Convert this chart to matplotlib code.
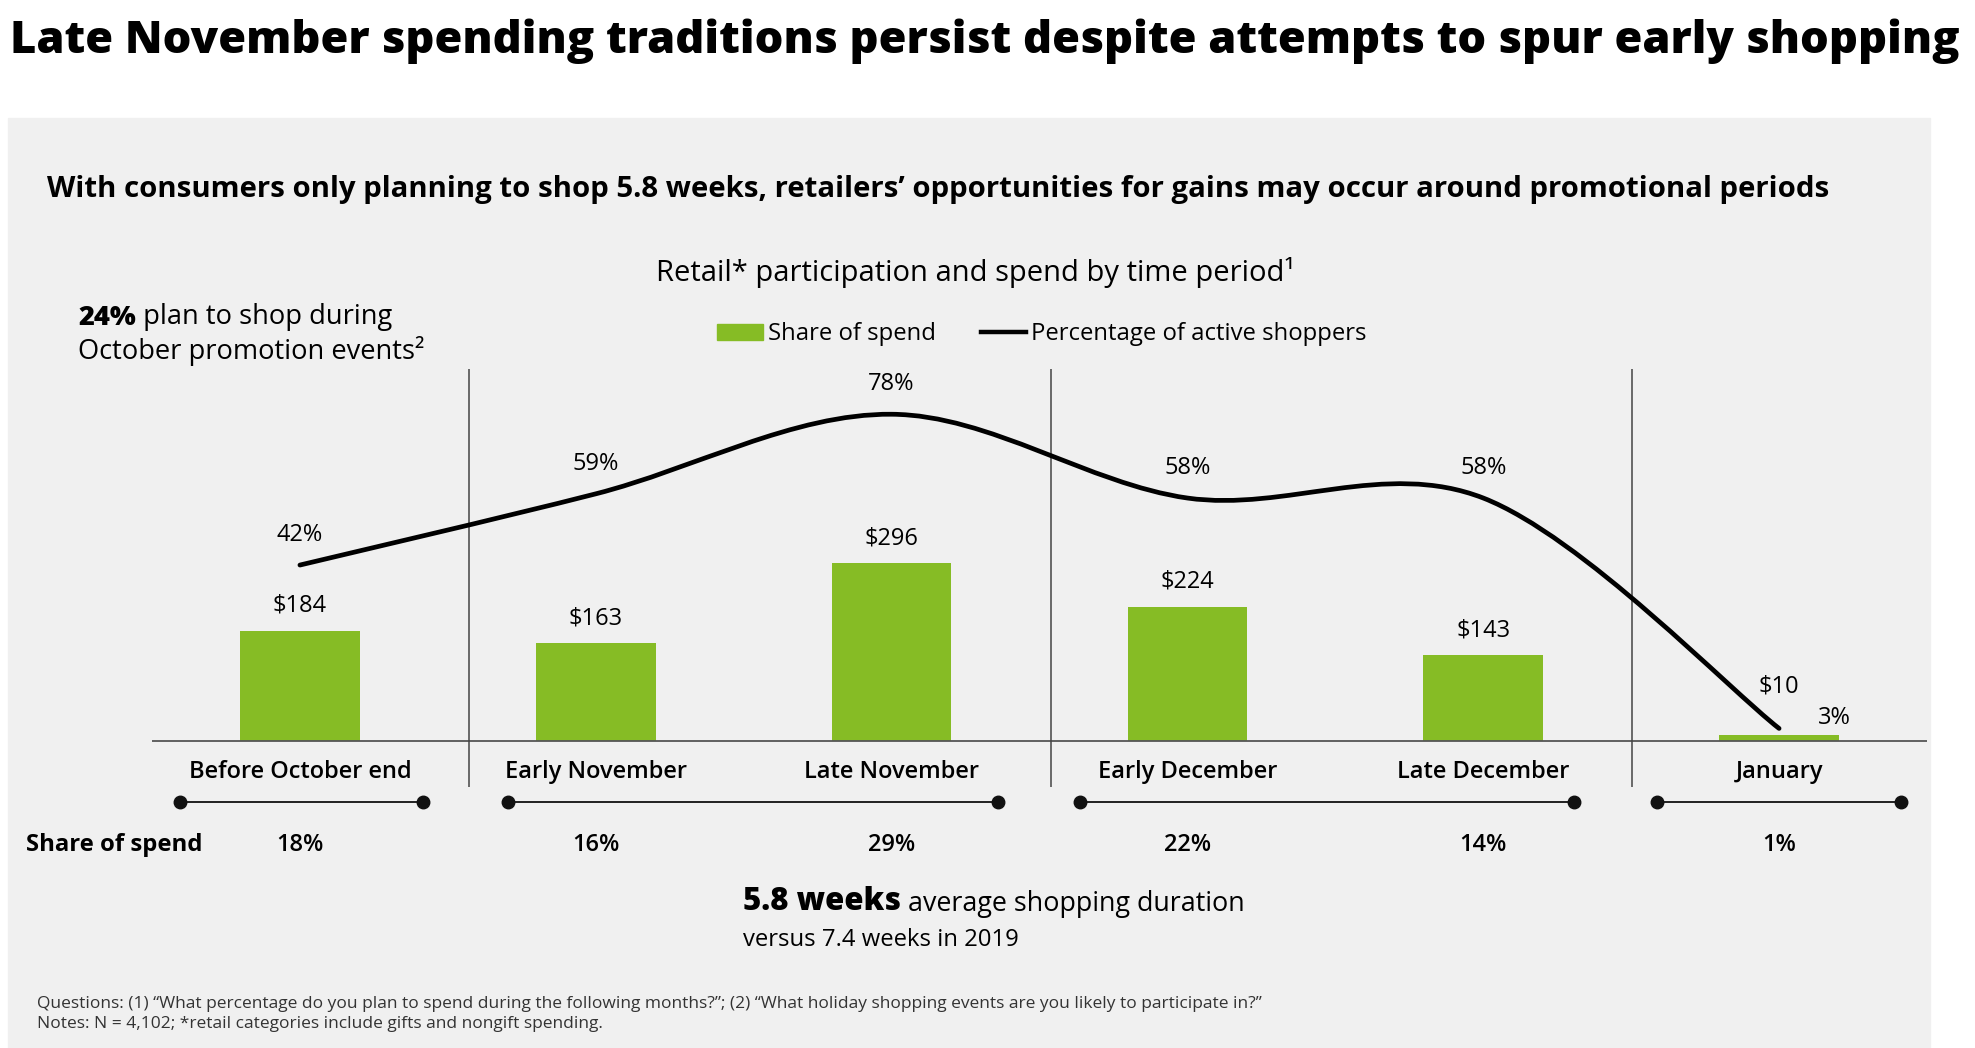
import matplotlib
matplotlib.use("Agg")
import matplotlib.pyplot as plt
from matplotlib.patches import Rectangle, Patch, PathPatch
from matplotlib.lines import Line2D
from matplotlib.path import Path

plt.rcParams['font.family'] = ['Open Sans', 'DejaVu Sans']

# data
periods = ["Before October end", "Early November", "Late November",
           "Early December", "Late December", "January"]
spend_dollars = [184, 163, 296, 224, 143, 10]
share_of_spend = [18, 16, 29, 22, 14, 1]
active_shoppers = [42, 59, 78, 58, 58, 3]

# timeline segments under the category labels (start, end) in category units
timeline = [(-0.405, 0.417), (0.703, 2.359), (2.636, 4.306), (4.587, 5.413)]
separators = [0.571, 2.538, 4.502]

GREEN = "#86bc25"
PANEL = "#f0f0f0"
W, H = 1975, 1048


def fx(x):
    return x / W


def fy(y):
    return 1 - y / H


def smooth_path(xs, ys):
    # Catmull-Rom style bezier through the points (like a smoothed Excel line)
    pts = list(zip(xs, ys))
    n = len(pts)
    verts = [pts[0]]
    codes = [Path.MOVETO]
    for i in range(n - 1):
        p0 = pts[max(i - 1, 0)]
        p1 = pts[i]
        p2 = pts[i + 1]
        p3 = pts[min(i + 2, n - 1)]
        c1 = (p1[0] + (p2[0] - p0[0]) / 6, p1[1] + (p2[1] - p0[1]) / 6)
        c2 = (p2[0] - (p3[0] - p1[0]) / 6, p2[1] - (p3[1] - p1[1]) / 6)
        verts += [c1, c2, p2]
        codes += [Path.CURVE4] * 3
    return Path(verts, codes)


fig = plt.figure(figsize=(W / 100, H / 100), dpi=100)
fig.patch.set_facecolor("white")
fig.patches.append(Rectangle((fx(8), 0), fx(1922), 930 / H, transform=fig.transFigure,
                             color=PANEL, zorder=-5))

# titles
fig.text(fx(10), fy(53), "Late November spending traditions persist despite attempts to spur early shopping",
         fontsize=32.6, weight=800, va="baseline")
fig.text(fx(47), fy(197), "With consumers only planning to shop 5.8 weeks, retailers\u2019 opportunities "
         "for gains may occur around promotional periods",
         fontsize=21.2, weight="bold", va="baseline")
fig.text(fx(975), fy(273), "Retail* participation and spend by time period\u00b9",
         fontsize=21, ha="center", va="center")

# axes: bars in dollars, line in percent, sharing the same baseline
ax = fig.add_axes([fx(152), fy(787), fx(1775), 418 / H])
ax2 = ax.twinx()
for a in (ax, ax2):
    a.set_xlim(-0.5, 5.5)
    a.axis("off")
    a.patch.set_visible(False)
ax.set_ylim(-76.7, 620)
ax2.set_ylim(-10.98, 88.8)

x = list(range(len(periods)))
ax.bar(x, spend_dollars, width=0.405, color=GREEN, zorder=2)
for i, v in enumerate(spend_dollars):
    dy = 35 if i == len(spend_dollars) - 1 else 18
    ax.annotate(f"${v}", (i, v), xytext=(0, dy), textcoords="offset points",
                ha="center", va="center", fontsize=17)

ax2.add_patch(PathPatch(smooth_path(x, active_shoppers), fill=False, lw=3.4,
                        edgecolor="black", capstyle="round", zorder=3))
for i, v in enumerate(active_shoppers):
    off = (39.6, 7.5) if i == len(active_shoppers) - 1 else (0, 21.6)
    ax2.annotate(f"{v}%", (i, v), xytext=off, textcoords="offset points",
                 ha="center", va="center", fontsize=17)

ax2.plot([-0.5, 5.5], [0, 0], color="#555555", lw=1.3, zorder=1)
ax2.vlines(separators, -10.98, 88.8, color="#444444", lw=1.1)

for i, p in enumerate(periods):
    ax2.text(i, -7.5, p, ha="center", va="center", fontsize=17, weight="semibold",
             clip_on=False)
for a, b in timeline:
    ax2.plot([a, b], [-14.56, -14.56], color="#111111", lw=1.3, marker="o", ms=9,
             clip_on=False)
for i, s in enumerate(share_of_spend):
    ax2.text(i, -24.9, f"{s}%", ha="center", va="center", fontsize=17,
             weight="semibold", clip_on=False)
fig.text(fx(26), fy(845), "Share of spend", fontsize=17.2, weight="bold", va="center")

# legend
handles = [Patch(color=GREEN), Line2D([], [], color="black", lw=3.2)]
fig.legend(handles, ["Share of spend", "Percentage of active shoppers"], loc="center",
           bbox_to_anchor=(fx(1042), fy(334)), ncol=2, frameon=False, fontsize=17.2,
           handlelength=1.9, handleheight=0.65, handletextpad=0.2, columnspacing=1.9)

# left callout
t1 = fig.text(fx(78), fy(325), "24%", fontsize=19.6, weight=800, va="baseline")
ax.annotate(" plan to shop during", xy=(1, 0), xycoords=t1, va="bottom", ha="left",
            fontsize=19.6, annotation_clip=False)
fig.text(fx(78), fy(359), "October promotion events\u00b2", fontsize=19.6, va="baseline")

# duration callout
t2 = fig.text(fx(743), fy(910), "5.8 weeks", fontsize=22.5, weight=800, va="baseline")
ax.annotate(" average shopping duration", xy=(1, 0), xycoords=t2, va="bottom", ha="left",
            fontsize=19.4, annotation_clip=False)
fig.text(fx(743), fy(946), "versus 7.4 weeks in 2019", fontsize=17.2, va="baseline")

# notes
fig.text(fx(37), fy(1008), "Questions: (1) \u201cWhat percentage do you plan to spend during the "
         "following months?\u201d; (2) \u201cWhat holiday shopping events are you likely to "
         "participate in?\u201d", fontsize=12.5, color="#333333", va="baseline")
fig.text(fx(37), fy(1028), "Notes: N = 4,102; *retail categories include gifts and nongift spending.",
         fontsize=12.5, color="#333333", va="baseline")

fig.savefig("out.png", dpi=100)
